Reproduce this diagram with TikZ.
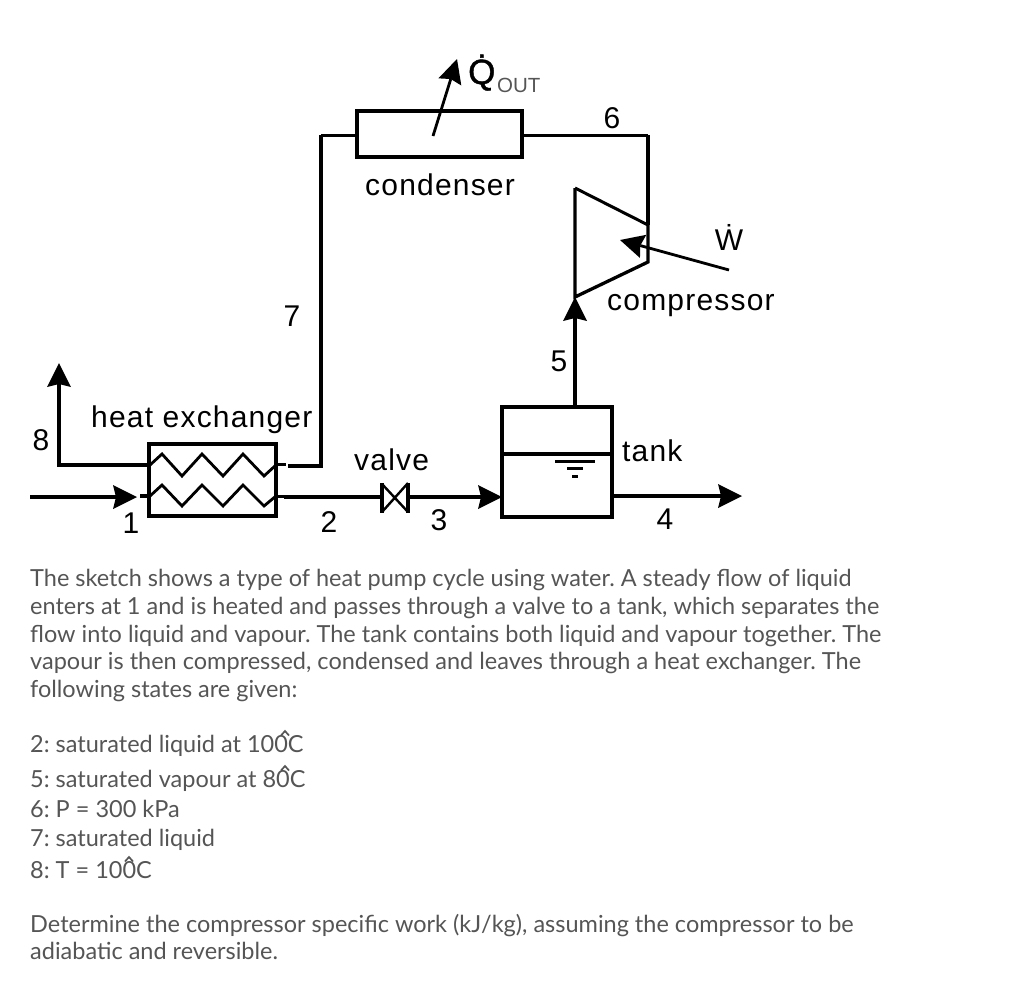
\documentclass[tikz,border=0pt]{standalone}
\usepackage{fontspec}
\setmainfont{Lato}
\newfontfamily\dgm{Liberation Sans}[LetterSpace=4]
\newfontfamily\dgmq{Liberation Sans}[FakeBold=1.2]
\newfontfamily\dgmsub{Liberation Sans}
\usetikzlibrary{arrows.meta}
\definecolor{bodygray}{HTML}{555555}
\tikzset{
  x=1pt,y=-1pt,
  pipe/.style={line width=3.3pt,line join=miter},
  thinpipe/.style={line width=3pt},
  flow/.style={pipe,-{Triangle[length=24pt,width=24pt,inset=3pt,line width=0pt]}},
  unit/.style={draw,line width=3.3pt,minimum width=#1,inner sep=0,outer sep=0},
  bodytext/.style={anchor=base west,inner sep=0,text=bodygray,font=\frenchspacing\fontsize{23.5}{28}\selectfont},
  lab/.style={anchor=base west,inner sep=0,font=\dgm\fontsize{30}{32}\selectfont},
  num/.style={anchor=base,inner sep=0,font=\dgm\fontsize{30}{32}\selectfont},
  hatmark/.style={draw=bodygray,line width=1.7pt,line join=miter},
}
\begin{document}
\begin{tikzpicture}
\useasboundingbox (0,0) rectangle (1024,988);
% equipment
\node[unit=127pt,minimum height=72pt] (hx) at (212.5,480) {};
\node[unit=165pt,minimum height=46pt] (cond) at (439.5,134) {};
\node[unit=110pt,minimum height=110pt] (tank) at (557,462) {};
% coordinates
\coordinate (s8a) at (149,465);
\coordinate (s8b) at (59,465);
\coordinate (s8c) at (59,363);
\coordinate (s1a) at (30,497);
\coordinate (s1b) at (137,497);
\coordinate (s1c) at (140,496);
\coordinate (s1d) at (149,496);
\coordinate (h7a) at (276,464);
\coordinate (h7b) at (286,464);
\coordinate (s7a) at (288,466);
\coordinate (s7b) at (321,466);
\coordinate (s7c) at (321,135);
\coordinate (s6a) at (648,135);
\coordinate (comp1) at (575,188);
\coordinate (comp2) at (648,225);
\coordinate (comp3) at (648,262);
\coordinate (comp4) at (575,297);
\coordinate (s2a) at (276,496);
\coordinate (s2b) at (286,496);
\coordinate (s2c) at (284,497);
\coordinate (v1) at (382,497);
\coordinate (v2) at (408,497);
\coordinate (s4a) at (610,496);
\coordinate (s4b) at (742,496);
\coordinate (tanktop) at (575,407);
\coordinate (qa) at (433,136);
\coordinate (qb) at (457,59);
\coordinate (wa) at (729,270);
\coordinate (wb) at (620,240);
% zigzags
\draw[line width=2.8pt,line join=miter] (150,465)--(162,454)--(182,476)--(202,454)--(223,476)--(243,454)--(264,476)--(276,465);
\draw[line width=2.8pt,line join=miter] (150,496)--(162,485)--(182,506)--(202,485)--(223,506)--(243,485)--(264,506)--(276,496);
% liquid level
\draw[pipe] (502,454)--(612,454);
\draw[line width=3pt] (555,461)--(595,461);
\draw[line width=3pt] (567,468)--(583,468);
\draw[line width=3pt] (572,476)--(578,476);
% compressor
\draw[thinpipe] (comp1)--(comp2);
\draw[pipe] (comp1)--(comp4)--(comp3)--(comp2);
% valve
\draw[line width=2.4pt] (382,484)--(408,512) (408,483)--(382,512);
\draw[pipe] (382,483)--(382,513) (408,483)--(408,513);
% pipes
\draw[flow] (s8a)--(s8b)--(s8c);
\draw[flow] (s1a)--(s1b);
\draw[pipe] (s1c)--(s1d);
\draw[thinpipe] (h7a)--(h7b);
\draw[pipe] (s7a)--(s7b)--(s7c);
\draw[thinpipe] (s7c)--(cond.west|-s7c);
\draw[thinpipe] (cond.east|-s6a)--(s6a);
\draw[pipe] (s6a)--(comp2);
\draw[thinpipe] (s2a)--(s2b);
\draw[pipe] (s2c)--(v1);
\draw[flow] (v2)--(tank.west|-v2);
\draw[flow] (s4a)--(s4b);
\draw[flow] (tanktop)--(comp4);
\draw[flow,line width=2.8pt] (qa)--(qb);
\draw[flow,line width=2.8pt] (wa)--(wb);
% labels
\node[lab] (lhx) at (91,427) {heat exchanger};
\node[lab] (lval) at (354,470) {valve};
\node[lab] (ltank) at (622,461) {tank};
\node[lab] (lcomp) at (607,310) {compressor};
\node[lab] (lcond) at (365,195) {condenser};
\node[num] (n8) at (41,450) {8};
\node[num] (n1) at (131,533) {1};
\node[num] (n2) at (329,532) {2};
\node[num] (n3) at (439,530) {3};
\node[num] (n4) at (665,529) {4};
\node[num] (n5) at (559,371) {5};
\node[num] (n6) at (612,128) {6};
\node[num] (n7) at (292,326) {7};
\node[num] (nw) at (729,250) {\.{W}};
\node[anchor=base west,inner sep=0,font=\dgmq\fontsize{35}{38}\selectfont] (nq) at (468,84) {\.{Q}};
\node[anchor=base west,inner sep=0,text=bodygray,font=\dgmsub\fontsize{20.5}{24}\selectfont] (nout) at (497,92) {OUT};
% body
\node[bodytext] (t1) at (30,586) {The sketch shows a type of heat pump cycle using water. A steady flow of liquid};
\node[bodytext] (t2) at (30,614) {enters at 1 and is heated and passes through a valve to a tank, which separates the};
\node[bodytext] (t3) at (30,642) {flow into liquid and vapour. The tank contains both liquid and vapour together. The};
\node[bodytext] (t4) at (30,669) {vapour is then compressed, condensed and leaves through a heat exchanger. The};
\node[bodytext] (t5) at (30,697) {following states are given:};
\node[bodytext] (t6) at (30,752) {2: saturated liquid at 100C};
\node[bodytext] (t7) at (30,787) {5: saturated vapour at 80C};
\node[bodytext] (t8) at (30,817) {6: P = 300 kPa};
\node[bodytext] (t9) at (30,846) {7: saturated liquid};
\node[bodytext] (t10) at (30,878) {8: T = 100C};
\node[bodytext] (t11) at (30,932) {Determine the compressor specific work (kJ/kg), assuming the compressor to be};
\node[bodytext] (t12) at (30,959) {adiabatic and reversible.};
% circumflex marks over the last zero of each temperature
\draw[hatmark] (281,735.5)--(285,731)--(289,735.5);
\draw[hatmark] (281,770.5)--(285,766)--(289,770.5);
\draw[hatmark] (125,861.5)--(129,857)--(133,861.5);
\end{tikzpicture}
\end{document}
